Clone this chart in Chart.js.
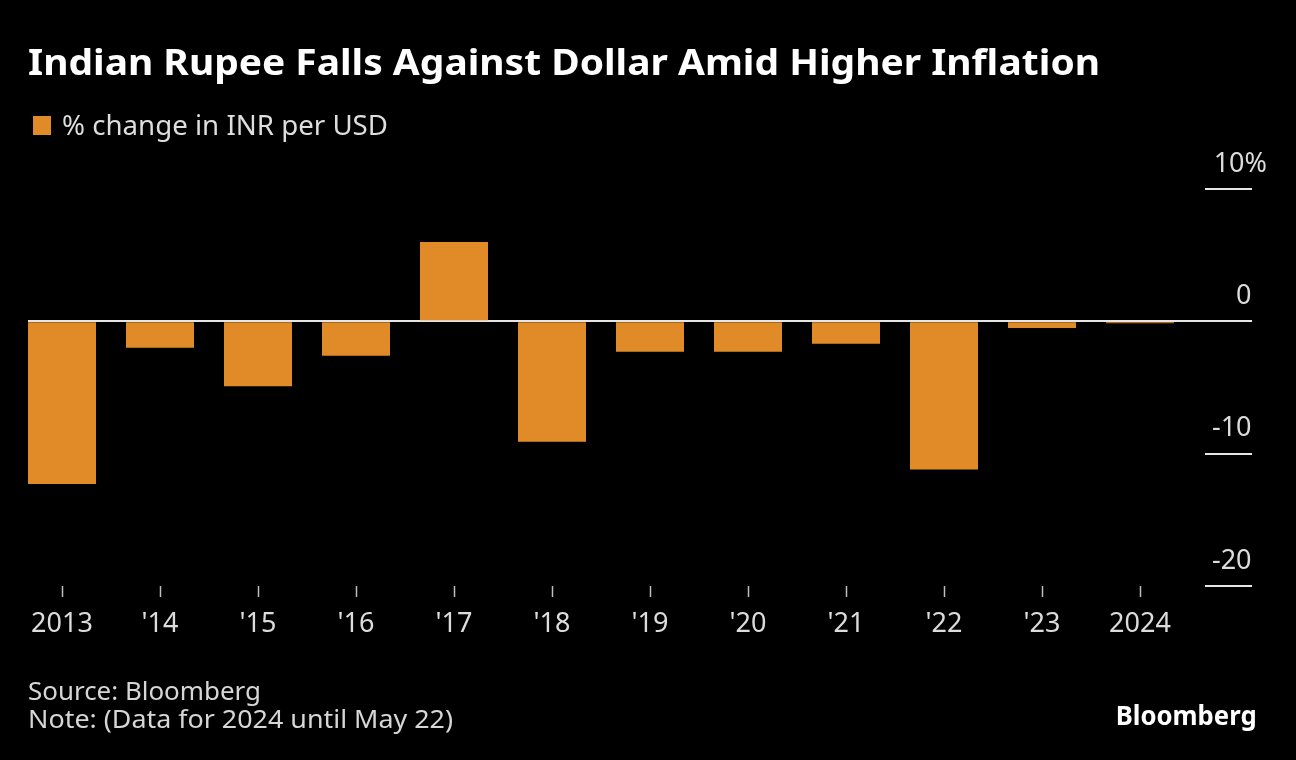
<!DOCTYPE html>
<html>
<head>
<meta charset="utf-8">
<script src="https://cdn.jsdelivr.net/npm/chart.js@4.4.1/dist/chart.umd.min.js"></script>
<style>
  html, body { margin: 0; padding: 0; background: #000; }
  #wrap { position: relative; width: 1296px; height: 760px; background: #000; overflow: hidden; font-family: 'Noto Sans', sans-serif; }
  #chartBox { position: absolute; left: 0; top: 0; width: 1296px; height: 760px; }
  .txt { position: absolute; white-space: nowrap; transform-origin: left center; }
  #title { left: 28px; top: 40px; font-size: 36px; line-height: 44px; font-weight: 700; color: #fff; }
  #legend { left: 33px; top: 109px; font-size: 27px; line-height: 32px; color: #dedede; display: flex; align-items: center; }
  #legend .sw { display: inline-block; width: 18px; height: 19px; background: #E08B27; margin-right: 11px; }
  #legText { display: inline-block; transform-origin: left center; margin-left: 0; }
  #source { left: 28px; top: 675px; font-size: 26px; line-height: 30px; color: #d6d6d6; }
  #note { left: 28px; top: 703px; font-size: 26px; line-height: 30px; color: #d6d6d6; }
  #brand { right: 39px; top: 699px; font-size: 26px; line-height: 32px; font-weight: 700; color: #fff; transform-origin: right center; }
</style>
</head>
<body>
<div id="wrap">
  <div id="chartBox"><canvas id="c" width="1296" height="760"></canvas></div>
  <div id="title" class="txt">Indian Rupee Falls Against Dollar Amid Higher Inflation</div>
  <div id="legend" class="txt"><span class="sw"></span><span id="legText">% change in INR per USD</span></div>
  <div id="source" class="txt">Source: Bloomberg</div>
  <div id="note" class="txt">Note: (Data for 2024 until May 22)</div>
  <div id="brand" class="txt">Bloomberg</div>
</div>
<script>
// ---- data ----
const categories = ['2013', "'14", "'15", "'16", "'17", "'18", "'19", "'20", "'21", "'22", "'23", '2024'];
const pctChange = [-12.3, -2.0, -4.9, -2.6, 6.0, -9.1, -2.3, -2.3, -1.7, -11.2, -0.5, -0.15];
const yTicks = [-20, -10, 0, 10];
const seriesName = '% change in INR per USD';

// ---- fit text widths to reference ----
function fitWidth(id, target) {
  const el = document.getElementById(id);
  const w = el.getBoundingClientRect().width;
  if (w > 0) el.style.transform = 'scaleX(' + (target / w) + ')';
}
fitWidth('title', 1072);
fitWidth('legText', 326);
fitWidth('source', 233);
fitWidth('note', 425);
fitWidth('brand', 141);

Chart.defaults.font.family = "'Noto Sans', sans-serif";

const BAR = '#E08B27';
const LINE = '#e6e6e6';

new Chart(document.getElementById('c'), {
  type: 'bar',
  data: {
    labels: categories,
    datasets: [{
      label: seriesName,
      data: pctChange,
      backgroundColor: BAR,
      borderWidth: 0,
      barPercentage: 0.694,
      categoryPercentage: 1.0
    }]
  },
  options: {
    responsive: false,
    animation: false,
    layout: { padding: { left: 13, top: 189, right: 29, bottom: 0 } },
    plugins: { legend: { display: false }, tooltip: { enabled: false }, title: { display: false } },
    scales: {
      x: {
        type: 'category',
        offset: true,
        border: { display: false },
        grid: {
          offset: false,
          drawOnChartArea: false,
          drawTicks: true,
          tickLength: 11,
          tickColor: '#bdbdbd',
          tickWidth: 1.5
        },
        ticks: {
          color: '#dcdcdc',
          font: { size: 27 },
          padding: 11,
          maxRotation: 0,
          autoSkip: false
        },
        afterFit: (s) => { s.height = 174; }
      },
      y: {
        position: 'right',
        min: yTicks[0],
        max: yTicks[yTicks.length - 1],
        afterBuildTicks: (s) => { s.ticks = yTicks.map(v => ({ value: v })); },
        border: { display: false, dash: [0, 15, 5000, 1] },
        grid: {
          drawOnChartArea: true,
          color: (ctx) => (ctx.tick && ctx.tick.value === 0) ? LINE : 'rgba(0,0,0,0)',
          lineWidth: 2,
          drawTicks: true,
          tickLength: 63,
          tickColor: LINE,
          tickWidth: 2,
          tickBorderDash: (ctx) => (ctx.tick && ctx.tick.value === 0) ? [] : [0, 16, 47, 200]
        },
        ticks: {
          color: '#dcdcdc',
          font: { size: 27 },
          crossAlign: 'far',
          padding: 0,
          labelOffset: -25,
          callback: (v) => v === yTicks[yTicks.length - 1] ? v + '%' : String(v) + '\u2007'
        },
        afterFit: (s) => { s.width = 78; }
      }
    }
  }
});
</script>
</body>
</html>
